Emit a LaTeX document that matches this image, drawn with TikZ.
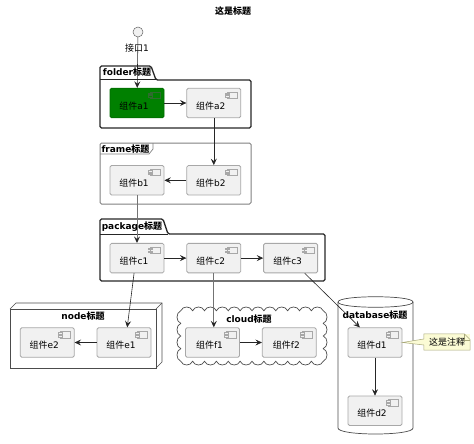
\documentclass[tikz,border=0pt]{standalone}
\usepackage{fontspec}
\setmainfont{DejaVu Sans}
\newfontfamily\cjk{Noto Sans CJK SC}
\usetikzlibrary{positioning,arrows.meta,calc}
\definecolor{compfill}{HTML}{F1F1F1}
\definecolor{compline}{HTML}{A8A8A8}
\definecolor{notefill}{HTML}{FBFBD5}
\definecolor{noteline}{HTML}{A8A87A}
\definecolor{greenfill}{HTML}{008000}
\definecolor{greenline}{HTML}{2E6B2E}
\newcommand{\zj}[1]{\rule{0pt}{13pt}{\cjk 组件}#1\hspace{6pt}}
\newcommand{\bt}[1]{\textbf{#1{\cjk 标题}}}

\begin{document}
\begin{tikzpicture}[
  x=1pt, y=-1pt,
  >={Stealth[length=6.5pt,width=6pt,inset=2.5pt]},
  node distance=22pt and 22pt,
  every node/.style={font=\fontsize{9}{11}\selectfont, align=center},
  comp/.style={draw=compline, fill=compfill, rounded corners=1.5pt, minimum width=54pt, minimum height=29.5pt, inner sep=0pt, line width=0.8pt},
  compgreen/.style={comp, draw=greenfill!85!black, fill=greenfill},
  lbl/.style={font=\fontsize{9}{11}\selectfont\bfseries, inner sep=0pt},
  iface/.style={circle, draw=black!60, fill=compfill, minimum size=10pt, inner sep=0pt, line width=0.5pt},
  boxdark/.style={draw=black!85, line width=1.3pt, rounded corners=1.5pt},
  boxgray/.style={draw=black!50, line width=1pt, rounded corners=1.5pt},
  boxthin/.style={draw=black!70, line width=0.7pt},
  e/.style={->, line width=0.6pt, draw=black!85},
  egray/.style={-{Stealth[length=6.5pt,width=6pt,inset=2.5pt,black!85]}, line width=1pt, draw=black!55},
  notebox/.style={fill=notefill, inner sep=0pt, minimum width=46pt, minimum height=16pt}
]
\useasboundingbox (0,0) rectangle (474,444);

\node[lbl] (title) at (233,11) {{\cjk 这是标题}};

% folder
\draw[boxdark] (100,80) -- (100,66) -- (151,66) -- (156,80) -- (251,80) -- (251,128) -- (100,128) -- cycle;
\draw[line width=1pt, draw=black!85] (100,80) -- (156,80);
\node[lbl] (folderlbl) at (127,72.5) {\bt{folder}};
% frame
\draw[boxgray] (100,143) rectangle (251,204);
\draw[draw=black!50, line width=0.7pt] (100,154) -- (149,154) -- (153,149) -- (153,143);
\node[lbl] (framelbl) at (125.5,149) {\bt{frame}};
% package
\draw[boxdark] (100,234) -- (100,219) -- (163,219) -- (168,234) -- (325,234) -- (325,281) -- (100,281) -- cycle;
\draw[line width=1pt, draw=black!85] (100,234) -- (168,234);
\node[lbl] (packagelbl) at (132,226.5) {\bt{package}};
% node
\draw[boxthin] (10,368) -- (10,309) -- (156,309) -- (156,368) -- cycle;
\draw[boxthin] (10,309) -- (16,303) -- (162,303) -- (162,362) -- (156,368);
\draw[boxthin] (156,309) -- (162,303);
\node[lbl] (nodelbl) at (83,316) {\bt{node}};
% cloud
\draw[boxthin] (180.75,310.75)
  \foreach \i in {1,...,12}{ .. controls +(2,-5) and +(-2,-5) .. ++(11.875,0) }
  \foreach \i in {1,...,4}{ .. controls +(5,2) and +(5,-2) .. ++(0,12.625) }
  \foreach \i in {1,...,12}{ .. controls +(-2,5) and +(2,5) .. ++(-11.875,0) }
  \foreach \i in {1,...,4}{ .. controls +(-5,-2) and +(-5,2) .. ++(0,-12.625) };
\node[lbl] (cloudlbl) at (249,319) {\bt{cloud}};
% database
\draw[boxthin] (338,302) .. controls (338,295) and (413,295) .. (413,302)
  -- (413,428) .. controls (413,436) and (338,436) .. (338,428) -- cycle;
\draw[boxthin] (338,302) .. controls (338,309) and (413,309) .. (413,302);
\node[lbl] (databaselbl) at (375,315) {\bt{database}};

\node[iface] (i1) at (138,32) {};
\node (i1lbl) at (137,48) {{\cjk 接口}1};

\node[compgreen] (a1) at (137,103) {\zj{a1}};
\node[comp, right=of a1] (a2) {\zj{a2}};
\node[comp, below=47pt of a2] (b2) {\zj{b2}};
\node[comp, left=of b2] (b1) {\zj{b1}};
\node[comp, below=47.5pt of b1] (c1) {\zj{c1}};
\node[comp, right=of c1] (c2) {\zj{c2}};
\node[comp, right=of c2] (c3) {\zj{c3}};
\node[comp] (e1) at (124,342.5) {\zj{e1}};
\node[comp, left=of e1] (e2) {\zj{e2}};
\node[comp] (f1) at (212.5,342.5) {\zj{f1}};
\node[comp, right=of f1] (f2) {\zj{f2}};
\node[comp] (d1) at (375,342.5) {\zj{d1}};
\node[comp, below=38pt of d1] (d2) {\zj{d2}};

\foreach \n/\c/\l in {a1/greenfill/greenline,a2/compfill/compline,b1/compfill/compline,b2/compfill/compline,c1/compfill/compline,c2/compfill/compline,c3/compfill/compline,e1/compfill/compline,e2/compfill/compline,f1/compfill/compline,f2/compfill/compline,d1/compfill/compline,d2/compfill/compline}{
  \draw[draw=\l, fill=\c, line width=0.5pt] ($(\n.north east)+(-14,4)$) rectangle +(10,6.5);
  \draw[draw=\l, fill=\c, line width=0.5pt] ($(\n.north east)+(-16,5)$) rectangle +(4,1.6);
  \draw[draw=\l, fill=\c, line width=0.5pt] ($(\n.north east)+(-16,7.8)$) rectangle +(4,1.6);
}

\node[notebox] (note) at (447,342) {{\cjk 这是注释}};
\draw[draw=noteline, fill=notefill, line width=0.5pt] (note.north west) -- ($(note.west)+(0,-3)$) -- (d1.east) -- ($(note.west)+(0,3)$) -- (note.south west) -- (note.south east) -- ($(note.north east)+(0,6)$) -- ($(note.north east)+(-6,0)$) -- cycle;
\draw[draw=noteline, line width=0.5pt] ($(note.north east)+(-6,0)$) -- ($(note.north east)+(-6,6)$) -- ($(note.north east)+(0,6)$);
\node (notetxt) at (note.center) {{\cjk 这是注释}};

\draw[e] (i1) -- (a1);
\draw[e] (a1) -- (a2);
\draw[e] (a2) -- (b2);
\draw[e] (b2) -- (b1);
\draw[egray] (b1) -- (c1);
\draw[e] (c1) -- (c2);
\draw[e] (c2) -- (c3);
\draw[e] (c1.-101) -- (e1.78);
\draw[egray] (c2.south) -- (c2.south |- f1.north);
\draw[e] (c3.-47) -- (d1.135);
\draw[e] (f1) -- (f2);
\draw[e] (e1) -- (e2);
\draw[e] (d1) -- (d2);
\end{tikzpicture}
\end{document}
